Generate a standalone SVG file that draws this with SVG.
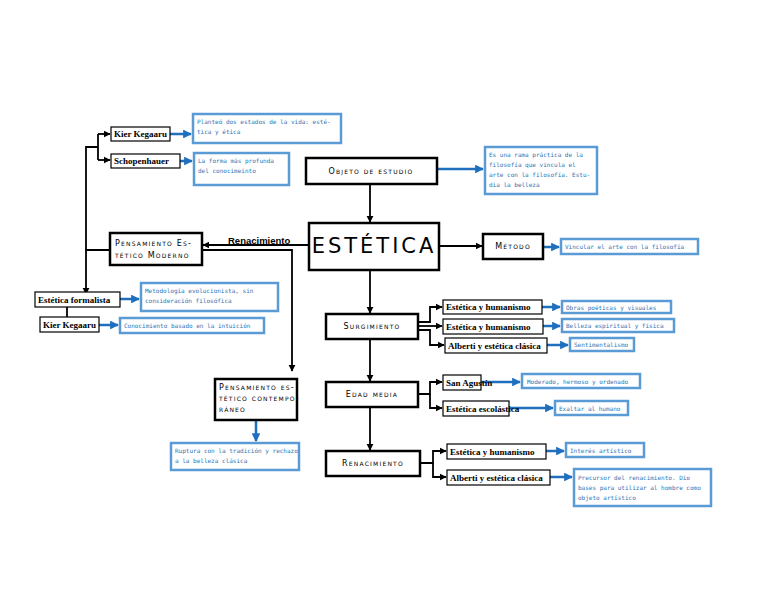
<svg xmlns="http://www.w3.org/2000/svg" width="768" height="594" viewBox="0 0 768 594">
<defs>
<marker id="ak" viewBox="0 0 10 10" refX="9" refY="5" markerWidth="4" markerHeight="4" orient="auto"><path d="M0,0L10,5L0,10z" fill="#000"/></marker>
<marker id="ab" viewBox="0 0 10 10" refX="9" refY="5" markerWidth="3.5" markerHeight="3.5" orient="auto"><path d="M0,0L10,5L0,10z" fill="#1f6fbf"/></marker>
<style>
.h{fill:#fff;stroke:#000;stroke-width:2.5}
.s{fill:#fff;stroke:#000;stroke-width:1.2}
.b{fill:#fff;stroke:#5b9bd5;stroke-width:2.5}
.ht{font-family:"DejaVu Sans",sans-serif;font-size:8px;font-variant:small-caps;letter-spacing:1.2px;fill:#000}
.st{font-family:"Liberation Serif",serif;font-size:9px;font-weight:bold;fill:#000}
.bt{font-family:"DejaVu Sans Mono",monospace;font-size:6px;fill:#2e74b5}
.c{fill:none;stroke:#000;stroke-width:1.8}
.cb{fill:none;stroke:#1f6fbf;stroke-width:2.5}
</style>
</defs>
<rect width="768" height="594" fill="#fff"/>
<g id="connectors">
<path class="c" d="M370,184V222" marker-end="url(#ak)"/>
<path class="c" d="M439,246H482" marker-end="url(#ak)"/>
<path class="c" d="M370,270V313" marker-end="url(#ak)"/>
<path class="c" d="M370,339V381" marker-end="url(#ak)"/>
<path class="c" d="M370,407V450" marker-end="url(#ak)"/>
<path class="c" d="M418,322H430V307H442" marker-end="url(#ak)"/>
<path class="c" d="M418,326H442" marker-end="url(#ak)"/>
<path class="c" d="M418,330H430V345H444" marker-end="url(#ak)"/>
<path class="c" d="M418,394H430V382H442" marker-end="url(#ak)"/>
<path class="c" d="M430,394V408H442" marker-end="url(#ak)"/>
<path class="c" d="M420,463H433V451H446" marker-end="url(#ak)"/>
<path class="c" d="M433,463V477H446" marker-end="url(#ak)"/>
<path class="c" d="M309,245H203" marker-end="url(#ak)"/>
<path class="c" d="M203,250H292V371" marker-end="url(#ak)"/>
<path class="c" d="M110,250H86V294" marker-end="url(#ak)"/>
<path class="c" d="M86,250V147H98"/>
<path class="c" d="M98,134V160"/>
<path class="c" d="M98,134H110" marker-end="url(#ak)"/>
<path class="c" d="M98,160H110" marker-end="url(#ak)"/>
<path class="c" d="M67,307V317"/>
<path class="cb" d="M170,134H191" marker-end="url(#ab)"/>
<path class="cb" d="M180,161H192" marker-end="url(#ab)"/>
<path class="cb" d="M437,169H483" marker-end="url(#ab)"/>
<path class="cb" d="M543,247H559" marker-end="url(#ab)"/>
<path class="cb" d="M542,307H560" marker-end="url(#ab)"/>
<path class="cb" d="M543,326H560" marker-end="url(#ab)"/>
<path class="cb" d="M547,345H568" marker-end="url(#ab)"/>
<path class="cb" d="M481,382H520" marker-end="url(#ab)"/>
<path class="cb" d="M509,408H553" marker-end="url(#ab)"/>
<path class="cb" d="M546,451H564" marker-end="url(#ab)"/>
<path class="cb" d="M550,477H572" marker-end="url(#ab)"/>
<path class="cb" d="M120,299H139" marker-end="url(#ab)"/>
<path class="cb" d="M99,325H118" marker-end="url(#ab)"/>
<path class="cb" d="M256,420V441" marker-end="url(#ab)"/>
<text x="228" y="244" font-family="Liberation Sans,sans-serif" font-size="9.5" font-weight="bold">Renacimiento</text>
</g>
<g id="estetica"><rect class="h" x="309" y="223" width="130" height="47"/><text x="374" y="253" text-anchor="middle" font-family="DejaVu Sans,sans-serif" font-size="21" letter-spacing="3">ESTÉTICA</text></g>
<g id="objeto"><rect class="h" x="306" y="158" width="131" height="26"/><text x="371" y="174" text-anchor="middle" class="ht">Objeto de estudio</text></g>
<g id="objeto-d"><rect class="b" x="485" y="147" width="112" height="47"/><text class="bt"><tspan x="489" y="157">Es una rama práctica de la</tspan><tspan x="489" y="167">filosofía que vincula el</tspan><tspan x="489" y="177">arte con la filosofía. Estu-</tspan><tspan x="489" y="187">dia la belleza</tspan></text></g>
<g id="metodo"><rect class="h" x="483" y="234" width="60" height="25"/><text x="513" y="249" text-anchor="middle" class="ht">Método</text></g>
<g id="metodo-d"><rect class="b" x="561" y="239" width="137" height="15"/><text x="565" y="249" class="bt">Vincular el arte con la filosofía</text></g>
<g id="surg"><rect class="h" x="326" y="314" width="92" height="25"/><text x="372" y="329" text-anchor="middle" class="ht">Surgimiento</text></g>
<g id="s1"><rect class="s" x="443" y="300" width="99" height="14"/><text x="446" y="310" class="st">Estética y humanismo</text></g>
<g id="s2"><rect class="s" x="443" y="319" width="100" height="15"/><text x="446" y="330" class="st">Estética y humanismo</text></g>
<g id="s3"><rect class="s" x="445" y="338" width="102" height="15"/><text x="448" y="349" class="st">Alberti y estética clásica</text></g>
<g id="s1d"><rect class="b" x="562" y="301" width="109" height="12"/><text x="566" y="310" class="bt">Obras poéticas y visuales</text></g>
<g id="s2d"><rect class="b" x="562" y="319" width="112" height="13"/><text x="566" y="328" class="bt">Belleza espiritual y física</text></g>
<g id="s3d"><rect class="b" x="570" y="338" width="64" height="13"/><text x="574" y="347" class="bt">Sentimentalismo</text></g>
<g id="edad"><rect class="h" x="326" y="382" width="92" height="25"/><text x="372" y="397" text-anchor="middle" class="ht">Edad media</text></g>
<g id="e1"><rect class="s" x="443" y="375" width="38" height="15"/><text x="446" y="386" class="st">San Agustín</text></g>
<g id="e2"><rect class="s" x="443" y="401" width="66" height="15"/><text x="446" y="412" class="st">Estética escolástica</text></g>
<g id="e1d"><rect class="b" x="522" y="374" width="118" height="14"/><text x="527" y="384" class="bt">Moderado, hermoso y ordenado</text></g>
<g id="e2d"><rect class="b" x="555" y="401" width="73" height="14"/><text x="559" y="411" class="bt">Exaltar al humano</text></g>
<g id="ren"><rect class="h" x="326" y="451" width="94" height="25"/><text x="373" y="466" text-anchor="middle" class="ht">Renacimiento</text></g>
<g id="r1"><rect class="s" x="447" y="444" width="99" height="15"/><text x="450" y="455" class="st">Estética y humanismo</text></g>
<g id="r2"><rect class="s" x="447" y="470" width="103" height="15"/><text x="450" y="481" class="st">Alberti y estética clásica</text></g>
<g id="r1d"><rect class="b" x="566" y="443" width="78" height="14"/><text x="570" y="453" class="bt">Interés artístico</text></g>
<g id="r2d"><rect class="b" x="574" y="469" width="137" height="37"/><text class="bt"><tspan x="578" y="480">Precursor del renacimiento. Dio</tspan><tspan x="578" y="490">bases para utilizar al hombre como</tspan><tspan x="578" y="500">objeto artístico</tspan></text></g>
<g id="contemp"><rect class="h" x="215" y="379" width="82" height="41"/><text class="ht" font-size="7" letter-spacing="0.8"><tspan x="219" y="390">Pensamiento es-</tspan><tspan x="219" y="401">tético contempo-</tspan><tspan x="219" y="412">ráneo</tspan></text></g>
<g id="contemp-d"><rect class="b" x="171" y="443" width="128" height="27"/><text class="bt"><tspan x="175" y="453">Ruptura con la tradición y rechazo</tspan><tspan x="175" y="463">a la belleza clásica</tspan></text></g>
<g id="moderno"><rect class="h" x="110" y="233" width="92" height="32"/><text class="ht" font-size="7" letter-spacing="0.8"><tspan x="115" y="246">Pensamiento Es-</tspan><tspan x="115" y="258">tético Moderno</tspan></text></g>
<g id="kier1"><rect class="s" x="111" y="127" width="59" height="14"/><text x="114" y="137" class="st">Kier Kegaaru</text></g>
<g id="schop"><rect class="s" x="111" y="154" width="69" height="14"/><text x="114" y="164" class="st">Schopenhauer</text></g>
<g id="kier1d"><rect class="b" x="193" y="114" width="148" height="29"/><text class="bt"><tspan x="197" y="124">Planteó dos estados de la vida: esté-</tspan><tspan x="197" y="134">tica y ética</tspan></text></g>
<g id="schopd"><rect class="b" x="194" y="153" width="95" height="32"/><text class="bt"><tspan x="198" y="163">La forma más profunda</tspan><tspan x="198" y="173">del conocimeinto</tspan></text></g>
<g id="formal"><rect class="s" x="35" y="292" width="85" height="15"/><text x="38" y="303" class="st">Estética formalista</text></g>
<g id="kier2"><rect class="s" x="40" y="317" width="59" height="15"/><text x="43" y="328" class="st">Kier Kegaaru</text></g>
<g id="formald"><rect class="b" x="141" y="283" width="137" height="28"/><text class="bt"><tspan x="145" y="293">Metodología evolucionista, sin</tspan><tspan x="145" y="303">consideración filosófica</tspan></text></g>
<g id="kier2d"><rect class="b" x="120" y="318" width="144" height="15"/><text x="124" y="328" class="bt">Conocimiento basado en la intuición</text></g>
</svg>
